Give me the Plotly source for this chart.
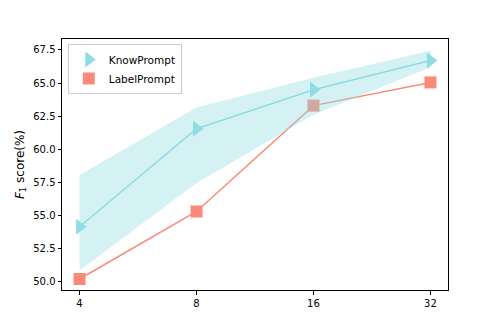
import plotly.graph_objects as go

shots = ["4", "8", "16", "32"]
know_prompt = [54.15, 61.55, 64.5, 66.7]
know_upper = [58.05, 63.15, 65.4, 67.45]
know_lower = [50.85, 57.45, 62.6, 66.2]
label_prompt = [50.2, 55.3, 63.3, 65.05]

KNOW_C = "#8fdce3"
LABEL_C = "#fa8a78"

fig = go.Figure()
fig.add_trace(go.Scatter(
    x=shots, y=label_prompt, mode="lines+markers", name="LabelPrompt",
    line=dict(color=LABEL_C, width=1.5),
    marker=dict(symbol="square", size=12, color=LABEL_C),
    showlegend=False))
fig.add_trace(go.Scatter(
    x=shots + shots[::-1], y=know_upper + know_lower[::-1],
    fill="toself", fillcolor="rgba(143,220,227,0.38)",
    line=dict(width=0), mode="lines", showlegend=False, hoverinfo="skip"))
fig.add_trace(go.Scatter(
    x=shots, y=know_prompt, mode="lines+markers", name="KnowPrompt",
    line=dict(color=KNOW_C, width=1.5),
    marker=dict(symbol="triangle-right", size=14, color=KNOW_C),
    showlegend=False))
# legend entries (markers only, as in the reference)
fig.add_trace(go.Scatter(
    x=[None], y=[None], mode="markers", name="KnowPrompt",
    marker=dict(symbol="triangle-right", size=14, color=KNOW_C), legendrank=1))
fig.add_trace(go.Scatter(
    x=[None], y=[None], mode="markers", name="LabelPrompt",
    marker=dict(symbol="square", size=12, color=LABEL_C), legendrank=2))

fig.update_layout(
    width=498, height=332,
    margin=dict(l=54, r=58, t=31, b=50),
    paper_bgcolor="white", plot_bgcolor="white",
    font=dict(family="DejaVu Sans", size=10, color="black"),
    legend=dict(x=0.015, y=0.98, xanchor="left", yanchor="top",
                bgcolor="rgba(255,255,255,0.8)", bordercolor="#cccccc", borderwidth=1,
                font=dict(size=10.5), itemwidth=30, tracegroupgap=0),
    xaxis=dict(type="category", range=[-0.15, 3.15], showgrid=False, automargin=False,
               showline=True, linecolor="black", linewidth=1, mirror=True,
               ticks="outside", ticklen=3.5, tickcolor="black", zeroline=False),
    yaxis=dict(range=[49.37, 68.33], tickvals=[50, 52.5, 55, 57.5, 60, 62.5, 65, 67.5],
               ticktext=["50.0", "52.5", "55.0", "57.5", "60.0", "62.5", "65.0", "67.5"],
               showgrid=False, showline=True, linecolor="black", linewidth=1, mirror=True,
               ticks="outside", ticklen=3.5, tickcolor="black", zeroline=False,
               automargin=False,
               title=dict(text="<i>F</i><sub>1</sub> score(%)", standoff=6)),
)

fig.write_html("out.html")
